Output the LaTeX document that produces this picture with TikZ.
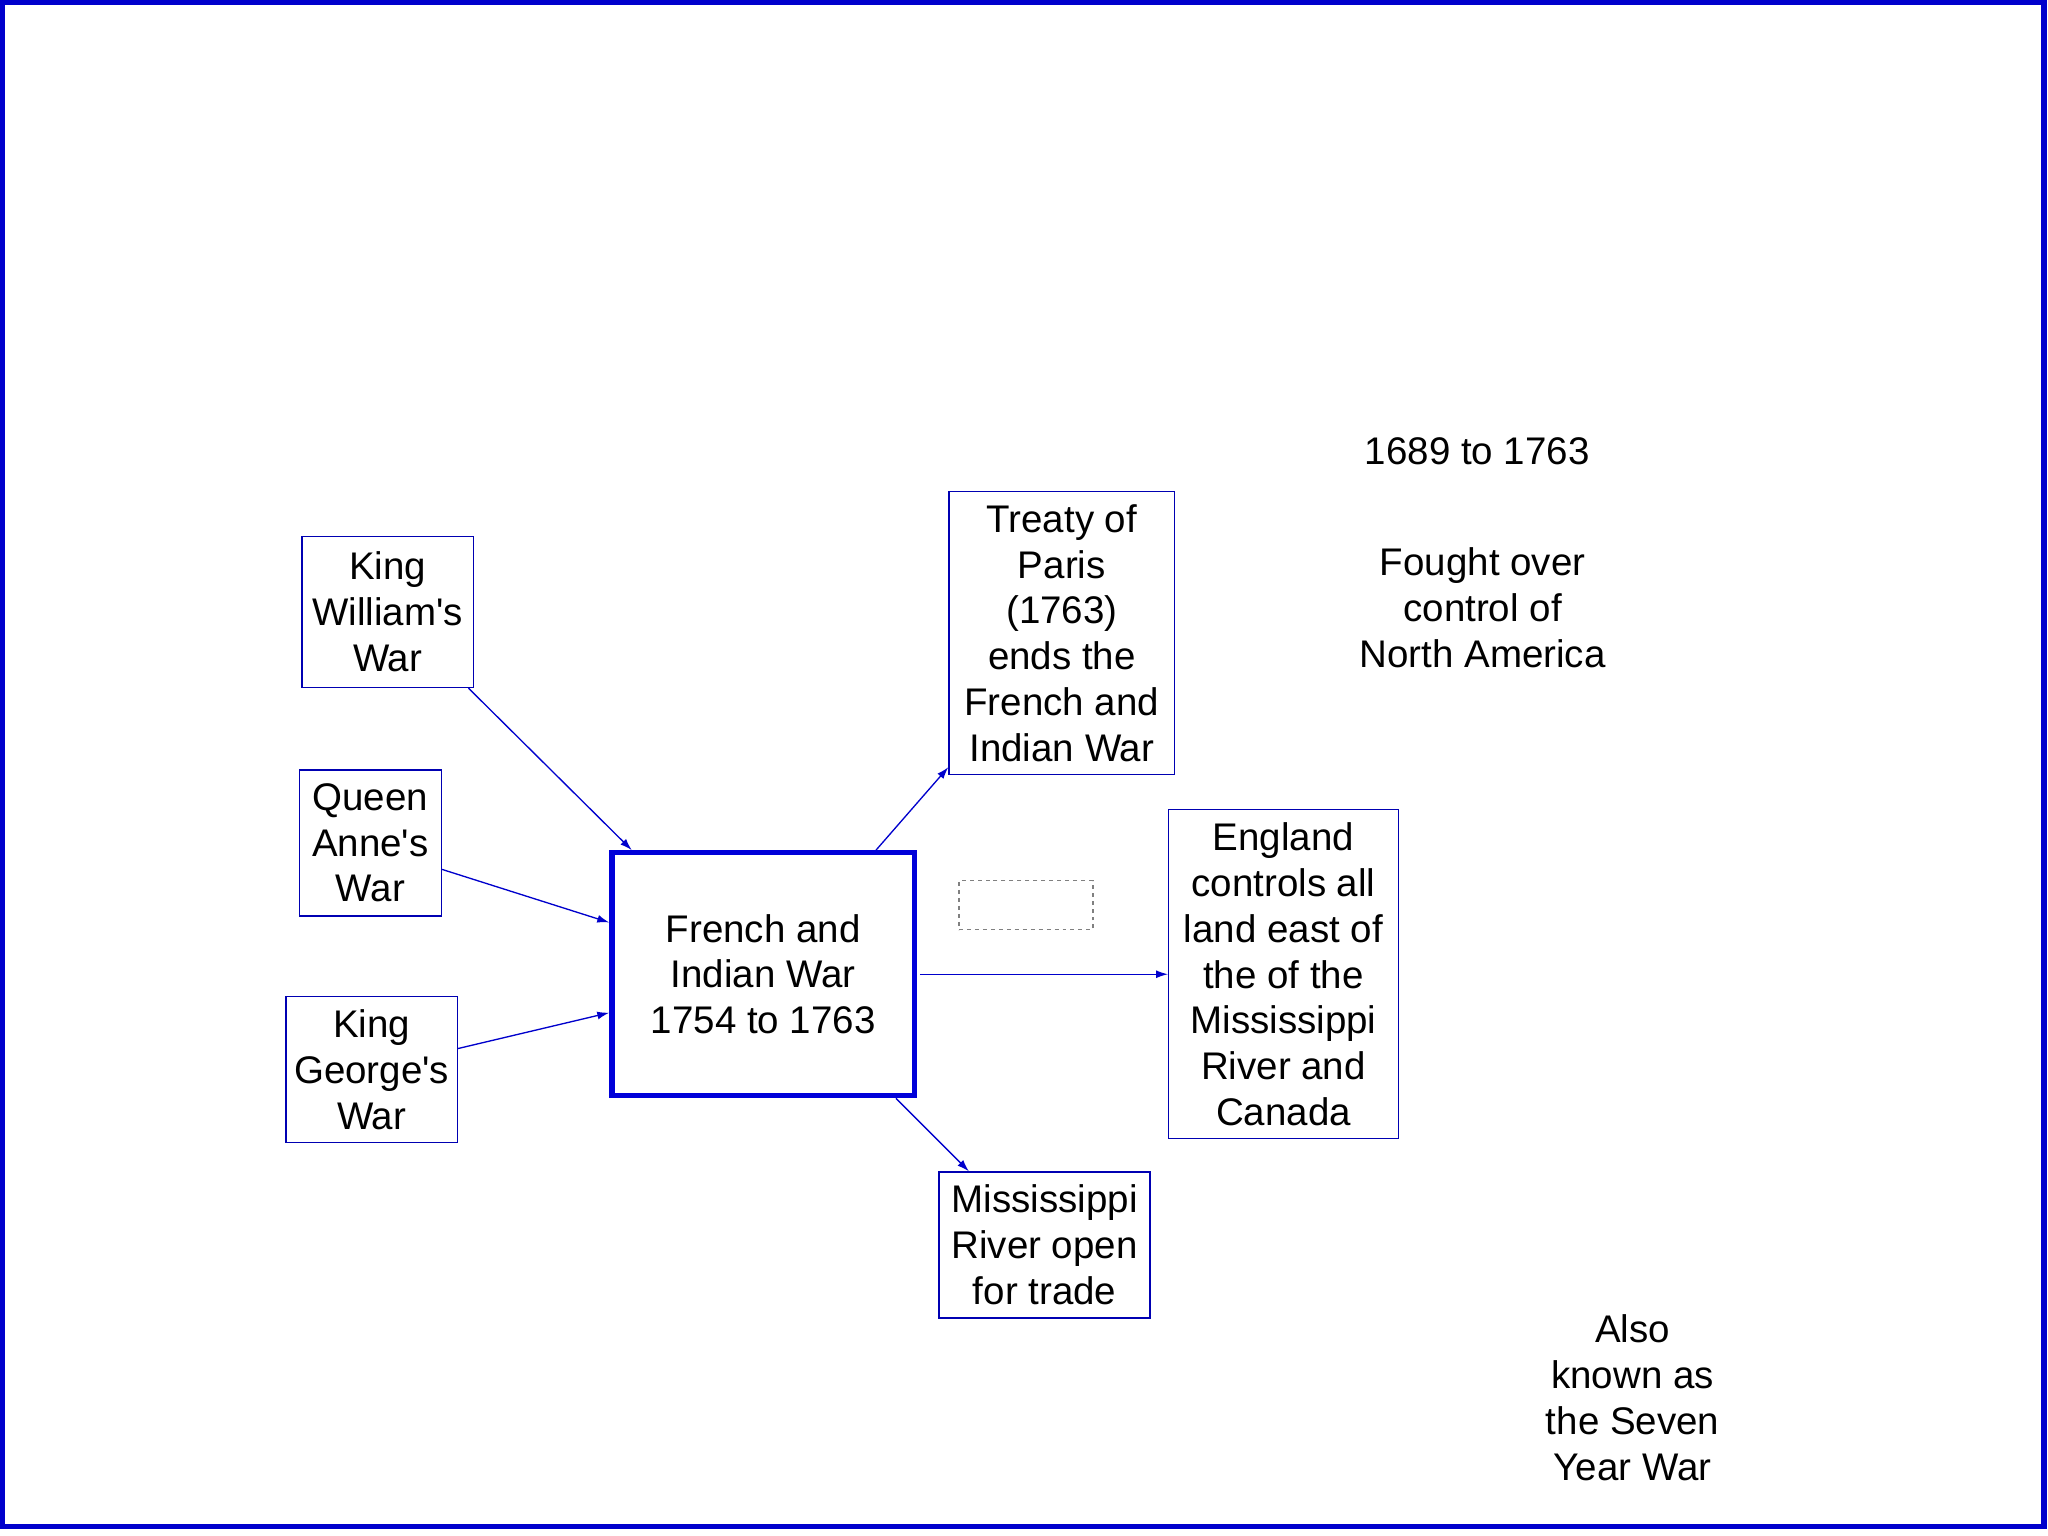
\documentclass[tikz,border=0pt]{standalone}
\usepackage{fontspec}
\setmainfont{Liberation Sans}[Ligatures=ResetAll]
\usetikzlibrary{arrows.meta}
\begin{document}
\begin{tikzpicture}[x=1pt,y=-1pt,
  txt/.style={font=\fontsize{29}{34.5}\selectfont,align=center,inner sep=0pt},
  bx/.style={txt,draw=blue!70!black,line width=1pt,rectangle},
  arr/.style={draw=blue!80!black,line width=1pt,-{Latex[length=9pt,width=6pt]}}]
\useasboundingbox (0,0) rectangle (1543,1157);
\draw[blue!80!black,line width=4pt] (2,2) rectangle (1540,1150);
\node[bx,minimum width=129,minimum height=114] (kw) at (292,461) {King\\William\textquotesingle s\\War};
\node[bx,minimum width=107,minimum height=110] (qa) at (279,635) {Queen\\Anne\textquotesingle s\\War};
\node[bx,minimum width=129,minimum height=110] (kg) at (280,806) {King\\George\textquotesingle s\\War};
\node[bx,draw=blue!85!black,line width=4pt,minimum width=228,minimum height=183] (fi) at (575,734) {French and\\Indian War\\1754 to 1763};
\node[bx,minimum width=170,minimum height=213] (tp) at (800,477) {Treaty of\\Paris\\(1763)\\ends the\\French and\\Indian War};
\node[draw=gray,dashed,line width=0.8pt,minimum width=101,minimum height=37,inner sep=0pt] (db) at (773,682) {};
\node[bx,minimum width=173,minimum height=248] (en) at (967,734) {England\\controls all\\land east of\\the of the\\Mississippi\\River and\\Canada};
\node[bx,minimum width=159,minimum height=110] (mr) at (787,938) {Mississippi\\River open\\for trade};
\node[txt] (yr) at (1113,340) {1689 to 1763};
\node[txt] (fo) at (1117,458) {Fought over\\control of\\North America};
\node[txt] (ak) at (1230,1053) {Also\\known as\\the Seven\\Year War};
\draw[arr] ([xshift=-4pt]kw.south east) -- ([xshift=17pt]fi.north west);
\draw[arr] ([yshift=-20pt]qa.east) -- ([yshift=39pt]fi.west);
\draw[arr] ([yshift=16pt]kg.east) -- ([yshift=-29pt]fi.west);
\draw[arr] ([xshift=-31pt]fi.north east) -- ([yshift=6pt]tp.south west);
\draw[arr] ([xshift=2pt]fi.east) -- (en.west);
\draw[arr] ([xshift=-16pt]fi.south east) -- ([xshift=23pt]mr.north west);
\end{tikzpicture}
\end{document}
